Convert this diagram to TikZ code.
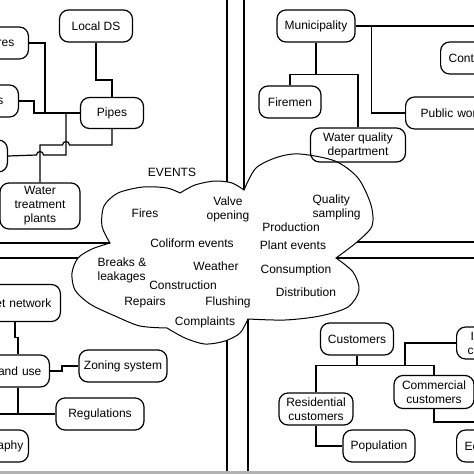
\documentclass[tikz,border=0pt]{standalone}
\usepackage{fontspec}
\setmainfont{Liberation Sans}
\begin{document}
\begin{tikzpicture}[x=1pt,y=-1pt,line width=1.2pt,
    every node/.style={font=\fontsize{12}{14}\selectfont},
    box/.style={draw,rounded corners=9pt,align=center,minimum height=32pt,inner sep=2pt},
    cutleft/.style={box,anchor=east,text width=60pt,align=right,inner xsep=#1},
    cutright/.style={box,anchor=west,text width=60pt,align=left,inner xsep=#1},
    word/.style={align=center,inner sep=0pt}]
    \path[use as bounding box,clip] (0,0) rectangle (474,474);
    \fill[black!30] (0,471) rectangle (474,474);

    % quadrant lines
    \coordinate (nT) at (244,190);
    \coordinate (nL) at (110,243);
    \coordinate (nR) at (336,258);
    \coordinate (nB) at (248,319);
    \draw (227,0) -- (227,182);
    \draw (244,0) -- (nT);
    \draw (0,243) -- (nL);
    \draw (0,258) -- (78,258);
    \draw (474,242) -- (357,242);
    \draw (474,258) -- (nR);
    \draw (227,471) -- (227,340);
    \draw (248,471) -- (nB);

    % events cloud
    \draw[line width=1pt] plot[smooth] coordinates {(244,190) (256,168) (278,157) (300,154) (335,161) (358,178) (371,205) (372,226) (357,242) (336,258)}
        -- plot[smooth] coordinates {(336,258) (353,272) (359,290) (348,307) (320,316) (285,320) (248,319)}
        -- plot[smooth] coordinates {(248,319) (240,333) (225,341) (205,344) (185,338) (167,328)}
        -- plot[smooth] coordinates {(167,328) (140,326) (115,316) (90,304) (75,290) (72,273) (78,258) (92,249) (110,243)}
        -- plot[smooth] coordinates {(110,243) (102,226) (104,206) (118,193) (143,187) (167,188) (180,193)}
        -- plot[smooth] coordinates {(180,193) (195,185) (215,181) (232,183) (244,190)}
        -- cycle;
    \node[word] (events) at (172,172) {EVENTS};
    \node[word] (evfires) at (145,213) {Fires};
    \node[word] (evvalve) at (228,209) {Valve\\opening};
    \node[word,anchor=west,align=left] (evquality) at (312,207) {Quality\\sampling};
    \node[word] (evproduction) at (291,227) {Production};
    \node[word] (evcoliform) at (192,243) {Coliform events};
    \node[word] (evplant) at (293,245) {Plant events};
    \node[word,anchor=west,align=left] (evbreaks) at (97,270) {Breaks \&\\leakages};
    \node[word] (evweather) at (216,266) {Weather};
    \node[word] (evconsumption) at (296,270) {Consumption};
    \node[word] (evconstruction) at (183,285) {Construction};
    \node[word] (evdistribution) at (306,292) {Distribution};
    \node[word] (evrepairs) at (145,302) {Repairs};
    \node[word] (evflushing) at (228,302) {Flushing};
    \node[word] (evcomplaints) at (205,322) {Complaints};

    % top left
    \node[box,minimum width=73pt] (localds) at (96,26) {Local DS};
    \node[box,minimum width=63pt,minimum height=31pt] (pipes) at (112,113) {Pipes};
    \node[box,minimum width=80pt,minimum height=46pt] (plants) at (40,206) {Water\\treatment\\plants};
    \node[cutleft=14pt] (fires) at (29,43) {res};
    \node[cutleft=15pt] (valves) at (19,101) {s};
    \node[cutleft=10pt] (hydrants) at (8,156) {};
    \draw (localds.south) |- (112,80) -- (pipes.north);
    \draw (fires.east) -| (45,113);
    \draw (valves.east) -| (34,113) -- (pipes.west);
    \draw (pipes.south) |- (69.5,145) arc[start angle=0,end angle=180,radius=3.5pt] -- (plants.north |- 0,145) -- (plants.north);
    \draw (hydrants.east) -- (36.5,155) arc[start angle=180,end angle=0,radius=3.5pt] -- (66,155) -- (66,113);

    % top right
    \coordinate (offright) at (480,26);
    \node[box,minimum width=78pt] (municipality) at (316,26) {Municipality};
    \node[box,minimum width=62pt] (firemen) at (290,102) {Firemen};
    \node[box,minimum width=95pt,minimum height=34pt] (wqd) at (358,145) {Water quality\\department};
    \node[cutright=8pt] (contractors) at (440,58) {Cont};
    \node[cutright=15pt] (publicworks) at (405,113) {Public wor};
    \draw (municipality.south) -- ++(0,32) coordinate (mfork) -| (firemen.north);
    \draw (mfork) -| (wqd.north);
    \draw (municipality.east) -- (offright);
    \draw ([xshift=16pt]municipality.east) |- (publicworks.west);

    % bottom left
    \coordinate (offleft) at (-5,414);
    \node[cutleft=9pt,minimum height=37pt] (street) at (61,303) {et network};
    \node[cutleft=8pt] (landuse) at (50,371) {and use};
    \node[box,minimum width=88pt] (zoning) at (123,366) {Zoning system};
    \node[box,minimum width=88pt] (regulations) at (100,414) {Regulations};
    \node[cutleft=5pt] (topography) at (29,446) {aphy};
    \draw ([xshift=-46pt]street.south east) -- ++(0,15) -| ([xshift=-32pt]landuse.north east);
    \draw (landuse.east) -- ++(12,0) |- (zoning.west);
    \draw ([xshift=-32pt]landuse.south east) |- (regulations.west);
    \draw (offleft) -- (regulations.west);

    % bottom right
    \coordinate (offright2) at (480,422);
    \node[box,minimum width=73pt] (customers) at (357,339) {Customers};
    \node[box,minimum width=80pt,minimum height=33pt] (commercial) at (434,392) {Commercial\\customers};
    \node[box,minimum width=74pt] (residential) at (316,409) {Residential\\customers};
    \node[box,minimum width=72pt] (population) at (379,446) {Population};
    \node[cutright=11pt] (industrial) at (456,343) {\hspace*{3pt}I\\c};
    \node[cutright=8pt] (economy) at (456,446) {Ec};
    \draw (customers.south) -- ++(0,10) coordinate (cfork);
    \draw (residential.north) |- (cfork) -| (commercial.north);
    \draw (industrial.west) -| ([xshift=48pt]cfork);
    \draw (residential.south) |- (population.west);
    \draw (commercial.south) |- (offright2);
\end{tikzpicture}
\end{document}
